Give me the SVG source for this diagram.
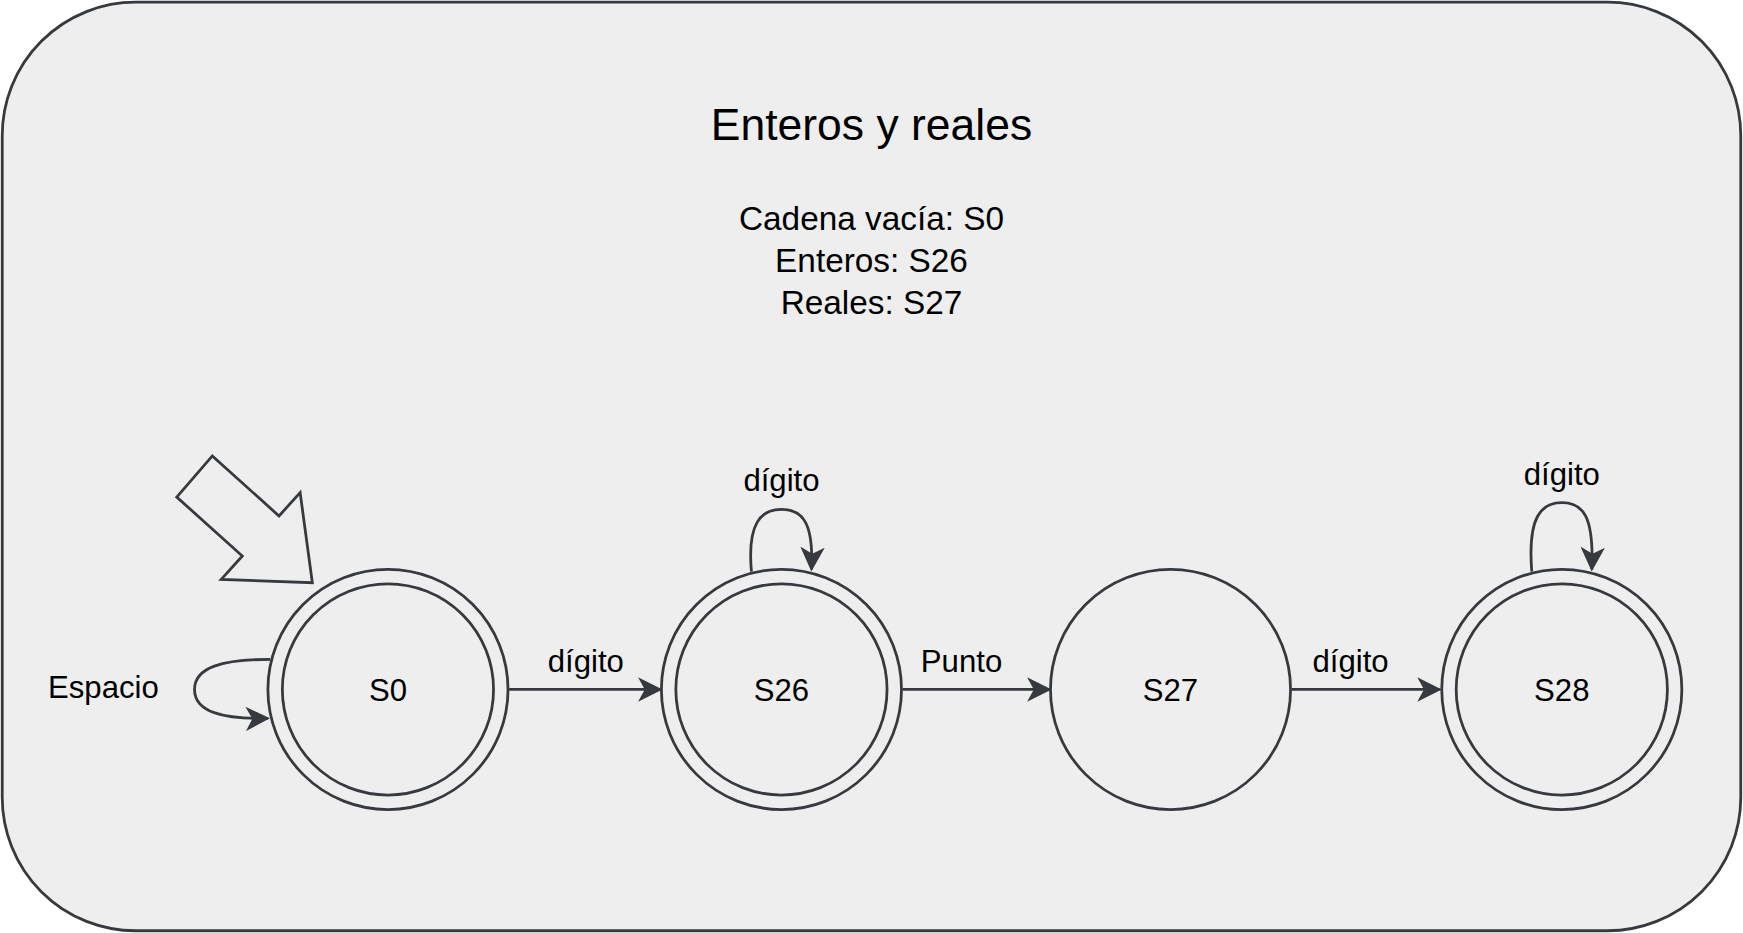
<svg xmlns="http://www.w3.org/2000/svg" width="1743" height="933" viewBox="0 0 1743 933">
<defs>
<style>
.s{fill:none;stroke:#36393d;stroke-width:2.5}
.c{fill:#eeeeee;stroke:#36393d;stroke-width:2.5}
text{font-family:"Liberation Sans",Arial,sans-serif;fill:#000;text-anchor:middle}
.l{font-size:28px}
</style>
<marker id="a" viewBox="0 0 10 10" refX="9" refY="5" markerWidth="7" markerHeight="7" markerUnits="userSpaceOnUse" orient="auto" overflow="visible">
<path d="M0,0 L10,5 L0,10 L3,5 Z" fill="#36393d" transform="scale(2.2)" />
</marker>
<marker id="b" viewBox="0 0 22 22" refX="20" refY="11" markerWidth="22" markerHeight="22" markerUnits="userSpaceOnUse" orient="auto">
<path d="M0,0 L22,11 L0,22 L6,11 Z" fill="#36393d"/>
</marker>
</defs>
<g transform="scale(1.1116,1.112)">
<g id="container">
<rect x="2" y="2" width="1564" height="835" rx="120" class="c"/>
<text x="784" y="126" font-size="40">Enteros y reales</text>
<text x="784" y="207" font-size="30">Cadena vacía: S0</text>
<text x="784" y="245" font-size="30">Enteros: S26</text>
<text x="784" y="282" font-size="30">Reales: S27</text>
</g>
<g id="start"><polygon class="c" points="159,447 191,410 251,464 270,443 281,524 199,521 218,500"/></g>
<g id="S0"><circle cx="349" cy="620" r="108" class="c"/><circle cx="349" cy="620" r="95" class="c"/><text x="349" y="630" class="l">S0</text></g>
<g id="S26"><circle cx="703" cy="620" r="108" class="c"/><circle cx="703" cy="620" r="95" class="c"/><text x="703" y="630" class="l">S26</text></g>
<g id="S27"><circle cx="1053" cy="620" r="108" class="c"/><text x="1053" y="630" class="l">S27</text></g>
<g id="S28"><circle cx="1405" cy="620" r="108" class="c"/><circle cx="1405" cy="620" r="95" class="c"/><text x="1405" y="630" class="l">S28</text></g>
<g id="connectors">
<path class="s" d="M458,620 H594" marker-end="url(#b)"/>
<path class="s" d="M812,620 H944" marker-end="url(#b)"/>
<path class="s" d="M1162,620 H1295" marker-end="url(#b)"/>
<path class="s" d="M676,514 C672,470 685,458 703,458 C722,458 732,470 730,512" marker-end="url(#b)"/>
<path class="s" d="M1378,514 C1374,464 1387,452 1405,452 C1424,452 1434,464 1432,512" marker-end="url(#b)"/>
<path class="s" d="M243,593 C200,593 175,600 175,620 C175,640 200,647 241,646" marker-end="url(#b)"/>
<text x="527" y="604" class="l">dígito</text>
<text x="865" y="604" class="l">Punto</text>
<text x="1215" y="604" class="l">dígito</text>
<text x="703" y="442" class="l">dígito</text>
<text x="1405" y="436" class="l">dígito</text>
<text x="93" y="628" class="l">Espacio</text>
</g>
</g>
</svg>
